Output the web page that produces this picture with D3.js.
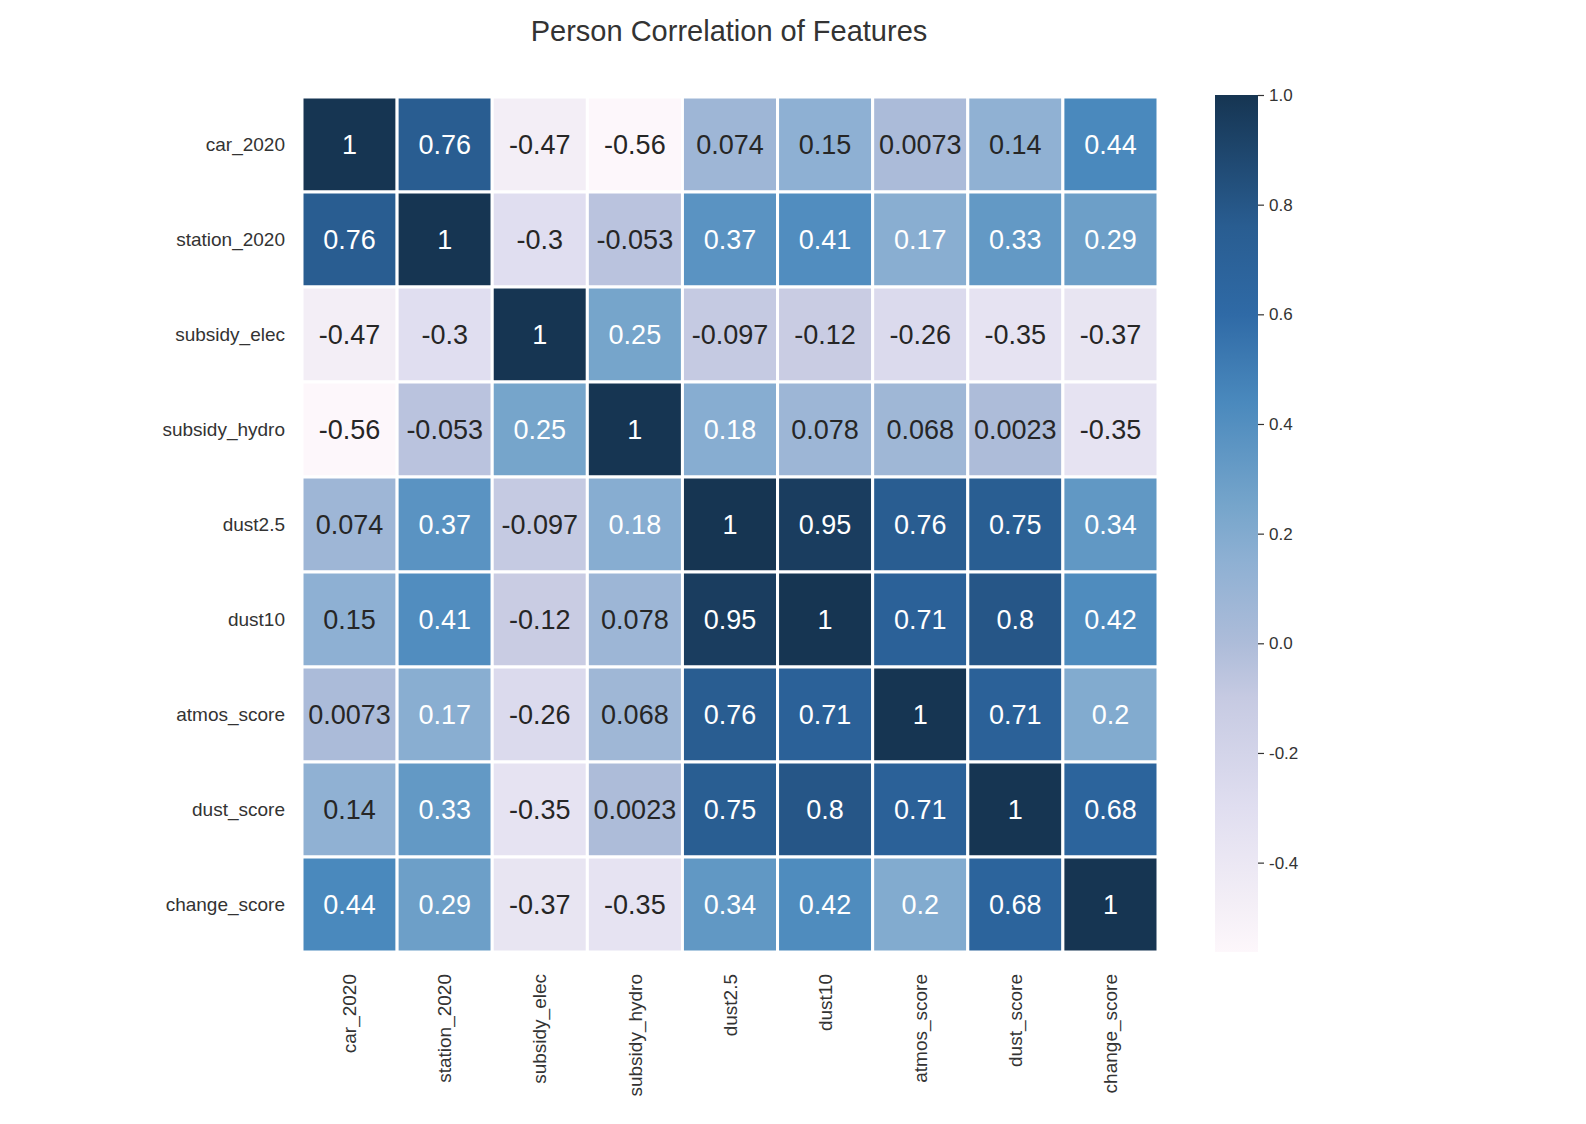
<!DOCTYPE html>
<html>
<head>
<meta charset="utf-8">
<script src="https://cdn.jsdelivr.net/npm/d3@7"></script>
<style>
  html, body { margin: 0; padding: 0; background: #ffffff; }
  svg { display: block; }
  text { font-family: "Liberation Sans", Arial, Helvetica, sans-serif; }
</style>
</head>
<body>
<svg id="chart" width="1586" height="1124"></svg>
<script>
// ---- data ----
const features = ["car_2020", "station_2020", "subsidy_elec", "subsidy_hydro", "dust2.5", "dust10", "atmos_score", "dust_score", "change_score"];
const row_car_2020      = [1, 0.76, -0.47, -0.56, 0.074, 0.15, 0.0073, 0.14, 0.44];
const row_station_2020  = [0.76, 1, -0.3, -0.053, 0.37, 0.41, 0.17, 0.33, 0.29];
const row_subsidy_elec  = [-0.47, -0.3, 1, 0.25, -0.097, -0.12, -0.26, -0.35, -0.37];
const row_subsidy_hydro = [-0.56, -0.053, 0.25, 1, 0.18, 0.078, 0.068, 0.0023, -0.35];
const row_dust25        = [0.074, 0.37, -0.097, 0.18, 1, 0.95, 0.76, 0.75, 0.34];
const row_dust10        = [0.15, 0.41, -0.12, 0.078, 0.95, 1, 0.71, 0.8, 0.42];
const row_atmos_score   = [0.0073, 0.17, -0.26, 0.068, 0.76, 0.71, 1, 0.71, 0.2];
const row_dust_score    = [0.14, 0.33, -0.35, 0.0023, 0.75, 0.8, 0.71, 1, 0.68];
const row_change_score  = [0.44, 0.29, -0.37, -0.35, 0.34, 0.42, 0.2, 0.68, 1];
const matrix = [row_car_2020, row_station_2020, row_subsidy_elec, row_subsidy_hydro, row_dust25, row_dust10, row_atmos_score, row_dust_score, row_change_score];
const colorbarTicks = [1.0, 0.8, 0.6, 0.4, 0.2, 0.0, -0.2, -0.4];
const title = "Person Correlation of Features";

// colour map stops (value -> colour)
const stopValues = [-0.563, -0.47, -0.3, -0.1, 0.0, 0.15, 0.25, 0.44, 0.6, 0.76, 1.0];
const stopColors = ["#fdf7fb", "#f3eef6", "#e0def0", "#c6cae2", "#adbcd9", "#8eb0d3", "#76a5cb", "#4a89bd", "#2f6aa6", "#295d91", "#163552"];

// ---- layout ----
const svg = d3.select("#chart");
const gx0 = 302, gx1 = 1158, gy0 = 97, gy1 = 952;
const vmin = -0.563, vmax = 1.0;

const x = d3.scaleBand().domain(features).range([gx0, gx1]).padding(0);
const y = d3.scaleBand().domain(features).range([gy0, gy1]).padding(0);
const color = d3.scaleLinear().domain(stopValues).range(stopColors).interpolate(d3.interpolateRgb).clamp(true);

function luminance(c) {
  const rgb = d3.rgb(c);
  const f = v => { v /= 255; return v <= 0.03928 ? v / 12.92 : Math.pow((v + 0.055) / 1.055, 2.4); };
  return 0.2126 * f(rgb.r) + 0.7152 * f(rgb.g) + 0.0722 * f(rgb.b);
}

const cells = [];
matrix.forEach((row, i) => row.forEach((v, j) => cells.push({ r: features[i], c: features[j], v })));

// title
svg.append("text")
  .attr("x", 729).attr("y", 41)
  .attr("text-anchor", "middle")
  .attr("font-size", 29)
  .attr("fill", "#333333")
  .text(title);

// cells
const g = svg.append("g");
g.selectAll("rect.cell").data(cells).enter().append("rect")
  .attr("class", "cell")
  .attr("x", d => x(d.c)).attr("y", d => y(d.r))
  .attr("width", x.bandwidth()).attr("height", y.bandwidth())
  .attr("fill", d => color(d.v))
  .attr("stroke", "#ffffff").attr("stroke-width", 3);

g.selectAll("text.annot").data(cells).enter().append("text")
  .attr("class", "annot")
  .attr("x", d => x(d.c) + x.bandwidth() / 2)
  .attr("y", d => y(d.r) + y.bandwidth() / 2)
  .attr("text-anchor", "middle")
  .attr("dominant-baseline", "central")
  .attr("font-size", 27)
  .attr("fill", d => luminance(color(d.v)) > 0.408 ? "#262626" : "#ffffff")
  .text(d => String(d.v));

// y axis labels
const yAxis = d3.axisLeft(y).tickSize(0).tickPadding(17);
svg.append("g").attr("transform", `translate(${gx0},0)`).call(yAxis)
  .call(a => a.select(".domain").remove())
  .call(a => a.selectAll("text").attr("font-size", 19).attr("fill", "#333333")
    .attr("font-family", "'Liberation Sans', Arial, sans-serif"));

// x axis labels (rotated)
const xAxis = d3.axisBottom(x).tickSize(0);
svg.append("g").attr("transform", `translate(0,${gy1})`).call(xAxis)
  .call(a => a.select(".domain").remove())
  .call(a => a.selectAll("text")
    .attr("font-size", 19).attr("fill", "#333333")
    .attr("font-family", "'Liberation Sans', Arial, sans-serif")
    .attr("transform", "rotate(-90)")
    .attr("text-anchor", "end")
    .attr("x", -22).attr("y", 0).attr("dy", "0.35em"));

// colorbar
const cbX = 1215, cbW = 43, cbTop = 95, cbBot = 952;
const cbScale = d3.scaleLinear().domain([vmin, vmax]).range([cbBot, cbTop]);
const defs = svg.append("defs");
const grad = defs.append("linearGradient").attr("id", "cbgrad")
  .attr("x1", "0%").attr("y1", "100%").attr("x2", "0%").attr("y2", "0%");
stopValues.forEach((v, i) => {
  grad.append("stop").attr("offset", ((v - vmin) / (vmax - vmin) * 100) + "%").attr("stop-color", stopColors[i]);
});
svg.append("rect").attr("x", cbX).attr("y", cbTop).attr("width", cbW).attr("height", cbBot - cbTop)
  .attr("fill", "url(#cbgrad)");

const cbAxis = d3.axisRight(cbScale).tickValues(colorbarTicks).tickSize(6).tickPadding(5)
  .tickFormat(d => d3.format(".1f")(d).replace("\u2212", "-"));
svg.append("g").attr("transform", `translate(${cbX + cbW},0)`).call(cbAxis)
  .call(a => a.select(".domain").remove())
  .call(a => a.selectAll("line").attr("stroke", "#333333").attr("stroke-width", 1.2))
  .call(a => a.selectAll("text").attr("font-size", 17).attr("fill", "#333333")
    .attr("font-family", "'Liberation Sans', Arial, sans-serif"));
</script>
</body>
</html>
